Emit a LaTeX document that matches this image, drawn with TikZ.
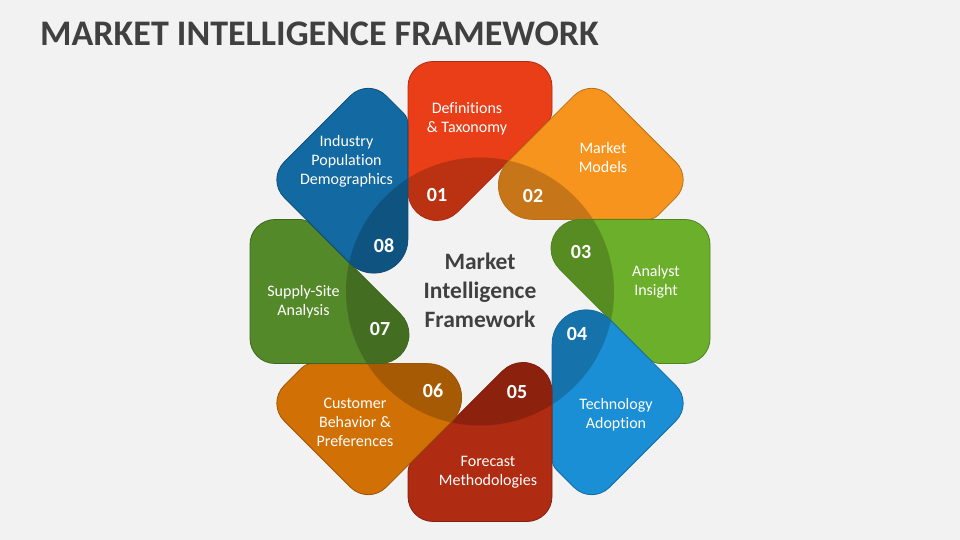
\documentclass[tikz,border=0pt]{standalone}
\usepackage{fontspec}
\setmainfont[Ligatures=NoCommon]{Carlito}

\definecolor{bgcol}{HTML}{F2F2F2}
\definecolor{ink}{HTML}{404040}
\definecolor{petalA}{HTML}{E93E17}
\definecolor{petalB}{HTML}{F7941E}
\definecolor{petalC}{HTML}{6BAF2A}
\definecolor{petalD}{HTML}{1A8FD6}
\definecolor{petalE}{HTML}{AF2B11}
\definecolor{petalF}{HTML}{D17005}
\definecolor{petalG}{HTML}{54892A}
\definecolor{petalH}{HTML}{1369A1}

% one petal, pointing up, inner corner radius #1 centred at height #2
\newcommand\petalshape[2]{(-72,#2) arc[start angle=180,end angle=315,radius=#1]
  -- (67.6,169.6) arc[start angle=315,end angle=360,radius=15]
  -- (72,205) arc[start angle=0,end angle=90,radius=25]
  -- (-47,230) arc[start angle=90,end angle=180,radius=25] -- cycle}

\tikzset{
  petaltext/.style={text=white, align=center, inner sep=0pt,
    font=\fontsize{16}{19}\selectfont},
  petalnum/.style={text=white, inner sep=0pt,
    font=\bfseries\fontsize{20}{24}\selectfont},
}

\begin{document}
\begin{tikzpicture}[x=1pt,y=1pt]
  \fill[bgcol] (0,0) rectangle (960,540);
  \node[anchor=base west, inner sep=0pt, text=ink,
    font=\bfseries\fontsize{36}{42}\selectfont] (title) at (40,494)
    {MARKET INTELLIGENCE FRAMEWORK};

  \coordinate (hub) at (480,248.5);
  \foreach \i/\col/\r/\cy in {1/petalA/29/100, 2/petalB/34/112.1,
      3/petalC/29/100, 4/petalD/34/112.1, 5/petalE/29/100,
      6/petalF/34/112.1, 7/petalG/29/100, 8/petalH/34/112.1}{
    \begin{scope}[shift={(hub)}, rotate={-45*(\i-1)}]
      \fill[\col] \petalshape{\r}{\cy};
      \begin{scope}
        \clip (0,0) circle[radius=134];
        \fill[\col!80!black] \petalshape{\r}{\cy};
      \end{scope}
      \draw[\col!75!black, line width=0.8pt] \petalshape{\r}{\cy};
    \end{scope}
  }

  \node[text=ink, align=center, inner sep=0pt,
    font=\bfseries\fontsize{23.5}{29}\selectfont] (hubtext) at (480,250)
    {Market\\Intelligence\\Framework};

  % labels
  \node[petaltext] (lab1) at (467,421) {Definitions\\\& Taxonomy};
  \node[petaltext] (lab2) at (603,382.5) {Market\\Models};
  \node[petaltext] (lab3) at (656,258) {Analyst\\Insight};
  \node[petaltext] (lab4) at (616,125.5) {Technology\\Adoption};
  \node[petaltext] (lab5) at (488,68) {Forecast\\Methodologies};
  \node[petaltext] (lab6) at (355,117.5) {Customer\\Behavior \&\\Preferences};
  \node[petaltext] (lab7) at (303.5,238.3) {Supply-Site\\Analysis};
  \node[petaltext] (lab8) at (346.5,378.3) {Industry\\Population\\Demographics};

  % numbers
  \node[petalnum] (num1) at (437,345) {01};
  \node[petalnum] (num2) at (533,344) {02};
  \node[petalnum] (num3) at (581,288) {03};
  \node[petalnum] (num4) at (577,206) {04};
  \node[petalnum] (num5) at (517,148) {05};
  \node[petalnum] (num6) at (433,149) {06};
  \node[petalnum] (num7) at (380,211) {07};
  \node[petalnum] (num8) at (384,294) {08};
\end{tikzpicture}
\end{document}
